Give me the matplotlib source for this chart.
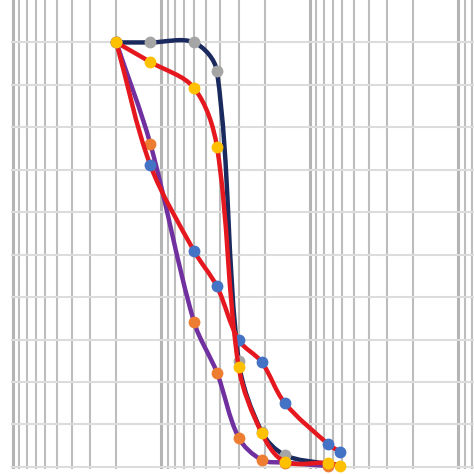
import numpy as np
import matplotlib
matplotlib.use("Agg")
import matplotlib.pyplot as plt
from matplotlib.path import Path
from matplotlib.patches import PathPatch
from matplotlib.ticker import LogLocator, NullFormatter

# sieve sizes (mm) shared by all curves
sizes = [20, 11.8, 6.0, 4.2, 3.0, 2.1, 1.47, 0.745, 0.62]

# percent passing per curve
navy_pass = [100, 100, 100, 93.2, 25.0, 8.3, 2.8, 0.6]
purple_pass = [100, 76.1, 34.2, 22.2, 6.9, 1.65, 1.0, 0.2]
red_blue_pass = [100, 71.1, 50.9, 42.5, 29.9, 24.7, 15.1, 5.3, 3.5]
red_yellow_pass = [100, 95.4, 89.3, 75.4, 23.6, 8.0, 1.25, 0.95, 0.25]

series = [
    (navy_pass, "#1B2A5E", "#A5A5A5"),
    (purple_pass, "#7030A0", "#ED7D31"),
    (red_blue_pass, "#E5181F", "#4472C4"),
    (red_yellow_pass, "#E5181F", "#FFC000"),
]


def smooth_path(ax, xs, ys):
    # excel-like smoothed line: cubic bezier through the points, built in pixel space
    pts = ax.transData.transform(np.column_stack([xs, ys]))
    n = len(pts)
    verts = [pts[0]]
    codes = [Path.MOVETO]
    for i in range(n - 1):
        p0 = pts[i - 1] if i > 0 else pts[i]
        p1 = pts[i]
        p2 = pts[i + 1]
        p3 = pts[i + 2] if i + 2 < n else pts[i + 1]
        d01 = np.linalg.norm(p1 - p0)
        d12 = np.linalg.norm(p2 - p1)
        d23 = np.linalg.norm(p3 - p2)
        c1 = p1 + (p2 - p0) * d12 / max(d01 + d12, 1e-9) / 3
        c2 = p2 - (p3 - p1) * d12 / max(d12 + d23, 1e-9) / 3
        verts += [c1, c2, p2]
        codes += [Path.CURVE4] * 3
    verts = ax.transData.inverted().transform(np.array(verts))
    return Path(verts, codes)


fig = plt.figure(figsize=(4.74, 4.74), dpi=100)
ax = fig.add_axes([11 / 474, 5 / 474, 1 - 11 / 474, 1 - 5 / 474])

ax.set_xscale("log")
ax.set_xlim(100 * 10 ** (1.5 / 148.5), 10 ** (2 - (474 - 12.5) / 148.5))
ax.set_ylim(-0.5, 110)

ax.xaxis.set_major_locator(LogLocator(base=10, numticks=10))
ax.xaxis.set_minor_locator(LogLocator(base=10, subs=range(2, 10), numticks=100))
ax.xaxis.set_minor_formatter(NullFormatter())
ax.set_yticks(range(0, 101, 10))

ax.grid(which="major", axis="x", color="#B4B4B4", lw=2.2)
ax.grid(which="minor", axis="x", color="#BDBDBD", lw=1.5)
ax.grid(which="major", axis="y", color="#DCDCDC", lw=1.5)
ax.set_axisbelow(True)

for s in ax.spines.values():
    s.set_visible(False)
ax.tick_params(which="both", length=0, labelbottom=False, labelleft=False)

for k, (vals, lc, mc) in enumerate(series):
    xs = sizes[:len(vals)]
    patch = PathPatch(smooth_path(ax, xs, vals), fill=False, edgecolor=lc, lw=3.2,
                      capstyle="round", joinstyle="round", clip_on=False, zorder=3 + 2 * k)
    ax.add_patch(patch)
    ax.plot(xs, vals, ls="none", marker="o", ms=7.5, mfc=mc, mec=mc,
            clip_on=False, zorder=4 + 2 * k)

fig.savefig("out.png", dpi=100)
